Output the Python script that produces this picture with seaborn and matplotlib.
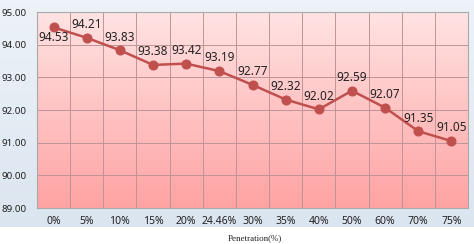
import numpy as np
import matplotlib
matplotlib.use("Agg")
import matplotlib.pyplot as plt
import seaborn as sns
import pandas as pd

categories = ["0%", "5%", "10%", "15%", "20%", "24.46%", "30%", "35%", "40%", "50%", "60%", "70%", "75%"]
values = [94.53, 94.21, 93.83, 93.38, 93.42, 93.19, 92.77, 92.32, 92.02, 92.59, 92.07, 91.35, 91.05]
y_ticks = [89, 90, 91, 92, 93, 94, 95]
x_label = "Penetration(%)"

sns.set_theme(style="white")
plt.rcParams['font.family'] = ['Noto Sans', 'DejaVu Sans']

W, H = 474, 244
fig = plt.figure(figsize=(W / 100, H / 100), dpi=100)
fig.patch.set_facecolor("white")

# figure background panel (light blue-gray)
bg = fig.add_axes([0, 1 - 227 / H, 1, 227 / H], zorder=-10)
grad = np.linspace(0, 1, 100).reshape(-1, 1)
c_top = np.array([0.93, 0.95, 0.975])
c_bot = np.array([0.86, 0.90, 0.94])
img = c_top[None, None, :] * (1 - grad[:, :, None]) + c_bot[None, None, :] * grad[:, :, None]
bg.imshow(img, aspect="auto", extent=[0, 1, 0, 1])
bg.set_axis_off()

left, right, top, bottom = 37, 468, 12, 208
ax = fig.add_axes([left / W, 1 - bottom / H, (right - left) / W, (bottom - top) / H])

df = pd.DataFrame({"idx": np.arange(len(categories)), "val": values})

# plot-area gradient
pg_top = np.array([1.0, 0.89, 0.89])
pg_bot = np.array([1.0, 0.64, 0.64])
g = np.linspace(0, 1, 100).reshape(-1, 1)
pimg = pg_top[None, None, :] * (1 - g[:, :, None]) + pg_bot[None, None, :] * g[:, :, None]
ax.imshow(pimg, aspect="auto", extent=[-0.5, len(categories) - 0.5, 89, 95], zorder=0)

line_color = "#c0504d"
sns.lineplot(data=df, x="idx", y="val", ax=ax, color=line_color, marker="o",
             markersize=6.5, markeredgecolor=line_color, linewidth=1.8, zorder=5)

ax.set_xlim(-0.5, len(categories) - 0.5)
ax.set_ylim(89, 95)
ax.set_yticks(y_ticks)
ax.set_yticklabels([f"{v:.2f}" for v in y_ticks], fontsize=7, color="#222222")
ax.set_xticks(np.arange(len(categories)))
ax.set_xticklabels(categories, fontsize=7.5, color="#222222")
ax.tick_params(axis="y", length=0, pad=7.5)
ax.tick_params(axis="x", length=0, pad=6)

# gridlines
grid_c = "#bf9497"
for yv in y_ticks[1:-1]:
    ax.axhline(yv, color=grid_c, lw=0.7, zorder=1)
for k in range(1, len(categories)):
    ax.axvline(k - 0.5, color=grid_c, lw=0.7, zorder=1)

for s in ax.spines.values():
    s.set_color("#a9a9a9")
    s.set_linewidth(0.8)

ax.set_xlabel("")
ax.set_ylabel("")

for i, v in enumerate(values):
    dy = -7.5 if i == 0 else 9.5
    ax.annotate(f"{v:.2f}", (i, v), xytext=(0, dy), textcoords="offset points",
                ha="center", va="center", fontsize=8.5, color="#222222", zorder=6)

fig.text((left + right) / 2 / W + 0.005, 1 - 238 / H, x_label, ha="center", va="center",
         fontsize=6.5, family="Liberation Serif", color="#222222")

fig.savefig("out.png", dpi=100, facecolor=fig.get_facecolor())
